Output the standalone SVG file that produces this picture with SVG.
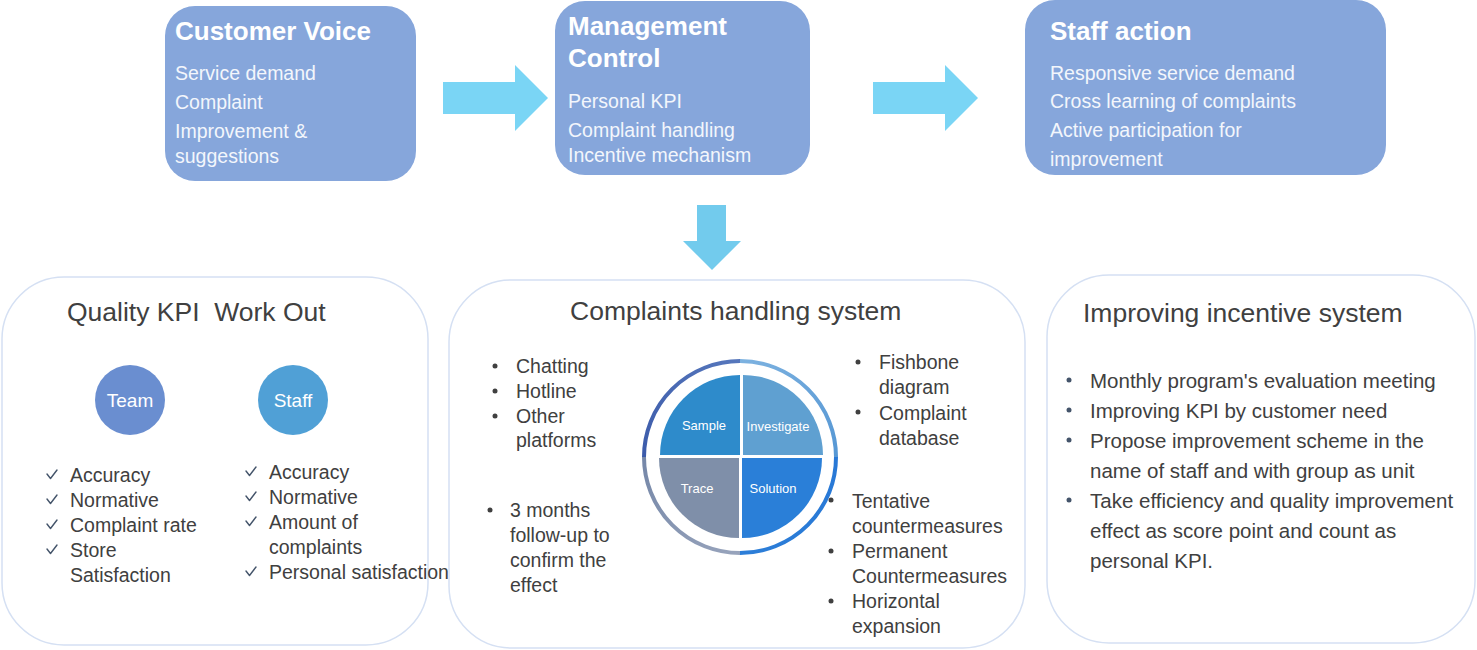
<svg xmlns="http://www.w3.org/2000/svg" width="1477" height="650" viewBox="0 0 1477 650">
<defs>
<style>
.top{fill:#86A6DB;}
.ttl{font-family:"Liberation Sans",Arial,sans-serif;font-weight:bold;font-size:26px;fill:#FFFFFF;}
.tb{font-family:"Liberation Sans",Arial,sans-serif;font-size:19.5px;fill:#F3F6FC;}
.panel{fill:#FFFFFF;stroke:#D5E0F3;stroke-width:1.5;}
.pt{font-family:"Liberation Sans",Arial,sans-serif;font-size:26.5px;fill:#404040;}
.bt{font-family:"Liberation Sans",Arial,sans-serif;font-size:19.5px;fill:#404040;}
.rt{font-family:"Liberation Sans",Arial,sans-serif;font-size:20.5px;fill:#404040;}
.ct{font-family:"Liberation Sans",Arial,sans-serif;font-size:19px;fill:#FFFFFF;text-anchor:middle;}
.qt{font-family:"Liberation Sans",Arial,sans-serif;font-size:13px;fill:#FFFFFF;text-anchor:middle;}
.chk{fill:none;stroke:#44546A;stroke-width:1.4;stroke-linecap:round;stroke-linejoin:round;}
.dot{fill:#404040;}
.dot2{fill:#44546A;}
.arr{fill:#7AD5F5;}
.ring{fill:none;stroke-width:4;}
</style>
<linearGradient id="gTL" gradientUnits="userSpaceOnUse" x1="644" y1="457" x2="740" y2="361">
<stop offset="0" stop-color="#3C5BAA"/><stop offset="1" stop-color="#5677BC"/>
</linearGradient>
<linearGradient id="gTR" gradientUnits="userSpaceOnUse" x1="740" y1="361" x2="836" y2="457">
<stop offset="0" stop-color="#7DB2E0"/><stop offset="1" stop-color="#5697D4"/>
</linearGradient>
<linearGradient id="gBR" gradientUnits="userSpaceOnUse" x1="836" y1="457" x2="740" y2="553">
<stop offset="0" stop-color="#2878D6"/><stop offset="1" stop-color="#2C7ED8"/>
</linearGradient>
<linearGradient id="gBL" gradientUnits="userSpaceOnUse" x1="740" y1="553" x2="644" y2="457">
<stop offset="0" stop-color="#98A4BC"/><stop offset="1" stop-color="#7587A8"/>
</linearGradient>
</defs>
<rect width="1477" height="650" fill="#FFFFFF"/>

<g id="customer-voice">
<rect class="top" x="165" y="6" width="251" height="175" rx="30"/>
<text class="ttl" x="175" y="40">Customer Voice</text>
<text class="tb" x="175" y="80">Service demand</text>
<text class="tb" x="175" y="109">Complaint</text>
<text class="tb" x="175" y="138">Improvement &amp;</text>
<text class="tb" x="175" y="163">suggestions</text>
</g>

<g id="management-control">
<rect class="top" x="555" y="1" width="255" height="174" rx="30"/>
<text class="ttl" x="568" y="35">Management</text>
<text class="ttl" x="568" y="67">Control</text>
<text class="tb" x="568" y="108">Personal KPI</text>
<text class="tb" x="568" y="137">Complaint handling</text>
<text class="tb" x="568" y="162">Incentive mechanism</text>
</g>

<g id="staff-action">
<rect class="top" x="1025" y="0" width="361" height="175" rx="30"/>
<text class="ttl" x="1050" y="40">Staff action</text>
<text class="tb" x="1050" y="80">Responsive service demand</text>
<text class="tb" x="1050" y="108">Cross learning of complaints</text>
<text class="tb" x="1050" y="137">Active participation for</text>
<text class="tb" x="1050" y="166">improvement</text>
</g>

<g id="connectors">
<polygon class="arr" points="443,82 515,82 515,65 548,98 515,131 515,114 443,114"/>
<polygon class="arr" points="873,82 945,82 945,65 978,98 945,131 945,114 873,114"/>
<polygon class="arr" style="fill:#72CBED" points="697,205 726,205 726,241 741,241 712,270 683,241 697,241"/>
</g>

<g id="quality-kpi">
<rect class="panel" x="2" y="277" width="426" height="368" rx="62"/>
<text class="pt" x="67" y="321" xml:space="preserve">Quality KPI  Work Out</text>
<g id="team">
<circle cx="130" cy="400" r="35" fill="#6A8ED0"/>
<text class="ct" x="130" y="407">Team</text>
</g>
<g id="staff">
<circle cx="293" cy="400" r="35" fill="#50A0D6"/>
<text class="ct" x="293" y="407">Staff</text>
</g>
<path class="chk" d="M47,474 L50.5,478.5 L57,470"/>
<path class="chk" d="M47,499 L50.5,503.5 L57,495"/>
<path class="chk" d="M47,524 L50.5,528.5 L57,520"/>
<path class="chk" d="M47,549 L50.5,553.5 L57,545"/>
<text class="bt" x="70" y="482">Accuracy</text>
<text class="bt" x="70" y="507">Normative</text>
<text class="bt" x="70" y="532">Complaint rate</text>
<text class="bt" x="70" y="557">Store</text>
<text class="bt" x="70" y="582">Satisfaction</text>
<path class="chk" d="M246,471 L249.5,475.5 L256,467"/>
<path class="chk" d="M246,496 L249.5,500.5 L256,492"/>
<path class="chk" d="M246,521 L249.5,525.5 L256,517"/>
<path class="chk" d="M246,571 L249.5,575.5 L256,567"/>
<text class="bt" x="269" y="479">Accuracy</text>
<text class="bt" x="269" y="504">Normative</text>
<text class="bt" x="269" y="529">Amount of</text>
<text class="bt" x="269" y="554">complaints</text>
<text class="bt" x="269" y="579">Personal satisfaction</text>
</g>

<g id="complaints-handling">
<rect class="panel" x="449" y="280" width="576" height="368" rx="62"/>
<text class="pt" x="570" y="320">Complaints handling system</text>
<circle class="dot" cx="495" cy="366" r="2.5"/>
<circle class="dot" cx="495" cy="391" r="2.5"/>
<circle class="dot" cx="495" cy="416" r="2.5"/>
<text class="bt" x="516" y="373">Chatting</text>
<text class="bt" x="516" y="398">Hotline</text>
<text class="bt" x="516" y="423">Other</text>
<text class="bt" x="516" y="447">platforms</text>
<circle class="dot" cx="490" cy="510" r="2.5"/>
<text class="bt" x="510" y="517">3 months</text>
<text class="bt" x="510" y="542">follow-up to</text>
<text class="bt" x="510" y="567">confirm the</text>
<text class="bt" x="510" y="592">effect</text>
<circle class="dot" cx="858" cy="362" r="2.5"/>
<circle class="dot" cx="858" cy="412" r="2.5"/>
<text class="bt" x="879" y="369">Fishbone</text>
<text class="bt" x="879" y="394">diagram</text>
<text class="bt" x="879" y="420">Complaint</text>
<text class="bt" x="879" y="445">database</text>
<g id="cycle">
<path class="ring" stroke="url(#gTL)" d="M644,457 A96,96 0 0 1 740,361"/>
<path class="ring" stroke="url(#gTR)" d="M740,361 A96,96 0 0 1 836,457"/>
<path class="ring" stroke="url(#gBR)" d="M836,457 A96,96 0 0 1 740,553"/>
<path class="ring" stroke="url(#gBL)" d="M740,553 A96,96 0 0 1 644,457"/>
<g id="sample">
<path fill="#2E8BCB" d="M740,455 L660,455 A80,80 0 0 1 740,375 Z"/>
<text class="qt" x="704" y="430">Sample</text>
</g>
<g id="investigate">
<path fill="#5FA0D1" d="M743,455 L743,375 A80,80 0 0 1 823,455 Z"/>
<text class="qt" x="778" y="431">Investigate</text>
</g>
<g id="trace">
<path fill="#7F8FA9" d="M739,458 L739,538 A80,80 0 0 1 659,458 Z"/>
<text class="qt" x="697" y="493">Trace</text>
</g>
<g id="solution">
<path fill="#2A7FD8" d="M742,458 L822,458 A80,80 0 0 1 742,538 Z"/>
<text class="qt" x="773" y="493">Solution</text>
</g>
</g>
<circle class="dot" cx="831" cy="500" r="2.5"/>
<circle class="dot" cx="831" cy="551" r="2.5"/>
<circle class="dot" cx="831" cy="601" r="2.5"/>
<text class="bt" x="852" y="508">Tentative</text>
<text class="bt" x="852" y="533">countermeasures</text>
<text class="bt" x="852" y="558">Permanent</text>
<text class="bt" x="852" y="583">Countermeasures</text>
<text class="bt" x="852" y="608">Horizontal</text>
<text class="bt" x="852" y="633">expansion</text>
</g>

<g id="improving-incentive">
<rect class="panel" x="1047" y="275" width="428" height="368" rx="62"/>
<text class="pt" x="1083" y="322">Improving incentive system</text>
<circle class="dot2" cx="1069" cy="380" r="2.5"/>
<circle class="dot2" cx="1069" cy="410" r="2.5"/>
<circle class="dot2" cx="1069" cy="440" r="2.5"/>
<circle class="dot2" cx="1069" cy="500" r="2.5"/>
<text class="rt" x="1090" y="388">Monthly program's evaluation meeting</text>
<text class="rt" x="1090" y="418">Improving KPI by customer need</text>
<text class="rt" x="1090" y="448">Propose improvement scheme in the</text>
<text class="rt" x="1090" y="478">name of staff and with group as unit</text>
<text class="rt" x="1090" y="508">Take efficiency and quality improvement</text>
<text class="rt" x="1090" y="538">effect as score point and count as</text>
<text class="rt" x="1090" y="568">personal KPI.</text>
</g>
</svg>
